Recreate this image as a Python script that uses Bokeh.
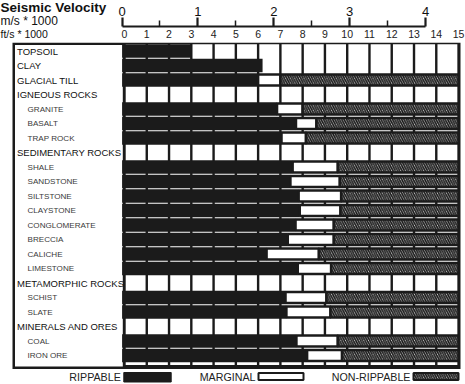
from bokeh.plotting import figure
from bokeh.models import Range1d, LinearAxis, FixedTicker, Title
from bokeh.layouts import column, row
from bokeh.core.properties import value
from bokeh.embed import file_html
from bokeh.resources import INLINE

# ---------------- data ----------------
rows = ["TOPSOIL", "CLAY", "GLACIAL TILL", "IGNEOUS ROCKS", "GRANITE", "BASALT",
        "TRAP ROCK", "SEDIMENTARY ROCKS", "SHALE", "SANDSTONE", "SILTSTONE",
        "CLAYSTONE", "CONGLOMERATE", "BRECCIA", "CALICHE", "LIMESTONE",
        "METAMORPHIC ROCKS", "SCHIST", "SLATE", "MINERALS AND ORES", "COAL", "IRON ORE"]
is_heading = [1, 1, 1, 1, 0, 0, 0, 1, 0, 0, 0, 0, 0, 0, 0, 0, 1, 0, 0, 1, 0, 0]
# seismic velocity, ft/s * 1000
rippable_end = [3.0, 6.2, 6.0, None, 6.85, 7.7, 7.05, None, 7.55, 7.45, 7.82,
                7.87, 7.68, 7.33, 6.38, 7.78, None, 7.23, 7.27, None, 7.72, 8.2]
marginal_end = [None, None, 7.0, None, 8.0, 8.62, 8.15, None, 9.58, 9.67, 9.73,
                9.7, 9.4, 9.4, 8.73, 9.28, None, 9.07, 9.25, None, 9.58, 9.77]
velocity_max = 15
ft_ticks = list(range(0, 16))
ms_ticks = [0, 1, 2, 3, 4]
ms_minor_ticks = [0.5, 1.5, 2.5, 3.5]
legend_labels = ["RIPPABLE", "MARGINAL", "NON-RIPPABLE"]
title_text = "Seismic Velocity"
unit_ms_text = "m/s * 1000"
unit_ft_text = "ft/s * 1000"

# ---------------- layout helpers (page pixels -> data) ----------------
W, H = 465, 384
TOP_H = 42             # height of header / axis strip
HEAD_W = 112           # width of header text block
PX_PER_FT = 22.27      # px per 1000 ft/s
X0 = 124.0             # px of 0 ft/s
ROW_H = 14.5           # px per row
ROW0 = 50.5            # px of first row centre
BLACK = "#1b1b1b"
FONT = "Liberation Sans"


def fx(px):
    return (px - X0) / PX_PER_FT


def fy(py):
    return (py - ROW0) / ROW_H


def base_fig(width, height, xr, yr, **kw):
    f = figure(width=width, height=height, x_range=xr, y_range=yr,
               output_backend="svg", toolbar_location=None, **kw)
    f.outline_line_color = None
    f.xgrid.visible = False
    f.ygrid.visible = False
    f.background_fill_color = "white"
    f.border_fill_color = "white"
    return f


# ---------------- header text block (top-left) ----------------
hdr = base_fig(HEAD_W, TOP_H, Range1d(0, 1), Range1d(0, 1),
               x_axis_location=None, y_axis_location=None,
               min_border_left=0, min_border_right=0, min_border_top=TOP_H - 2,
               min_border_bottom=0)
# stacked from the frame outwards
for txt, size, style, so in [(unit_ft_text, "10.5px", "normal", -1),
                             (unit_ms_text, "12px", "normal", -4.4),
                             (title_text, "13.5px", "bold", -1)]:
    hdr.add_layout(Title(text=txt, align="left", vertical_align="top", offset=0,
                         standoff=so, text_font=FONT, text_font_size=size,
                         text_font_style=style, text_color="#111111"), "above")

# ---------------- axis strip (top-right) ----------------
AX_W = W - HEAD_W
ax_x0, ax_x1 = fx(HEAD_W), fx(W)
ms0_x = fx(121.5)                       # 0 m/s as drawn
ms_per = (fx(425) - ms0_x) / 4.0        # 4 m/s as drawn
axf = base_fig(AX_W, TOP_H, Range1d(ax_x0, ax_x1), Range1d(0, 1),
               x_axis_location="above", y_axis_location=None,
               min_border_left=0, min_border_right=0, min_border_top=TOP_H - 2,
               min_border_bottom=0)
ax_ft = axf.xaxis[0]
ax_ft.ticker = FixedTicker(ticks=ft_ticks, minor_ticks=[])
ax_ft.axis_line_color = None
ax_ft.major_tick_line_color = None
ax_ft.minor_tick_line_color = None
ax_ft.major_tick_out = 0
ax_ft.major_tick_in = 0
ax_ft.major_label_standoff = 4
ax_ft.major_label_text_font = FONT
ax_ft.major_label_text_font_size = "10.5px"
ax_ft.major_label_text_color = "#222222"

axf.extra_x_ranges = {"ms": Range1d((ax_x0 - ms0_x) / ms_per, (ax_x1 - ms0_x) / ms_per)}
ax_ms = LinearAxis(x_range_name="ms",
                   ticker=FixedTicker(ticks=ms_ticks, minor_ticks=ms_minor_ticks),
                   bounds=(ms_ticks[0], ms_ticks[-1]))
ax_ms.axis_line_width = 2.2
ax_ms.axis_line_color = BLACK
ax_ms.major_tick_out = 9
ax_ms.major_tick_in = 0
ax_ms.major_tick_line_width = 2.2
ax_ms.major_tick_line_color = BLACK
ax_ms.minor_tick_out = 6
ax_ms.minor_tick_in = 0
ax_ms.minor_tick_line_width = 1.5
ax_ms.minor_tick_line_color = BLACK
ax_ms.major_label_standoff = 2
ax_ms.major_label_text_font = FONT
ax_ms.major_label_text_font_size = "13px"
ax_ms.major_label_text_color = "#111111"
axf.add_layout(ax_ms, "above")

# ---------------- main chart ----------------
p = base_fig(W, H - TOP_H, Range1d(fx(0), fx(W)), Range1d(fy(H), fy(TOP_H)),
             x_axis_location=None, y_axis_location=None,
             min_border_left=0, min_border_right=0, min_border_top=0,
             min_border_bottom=0)

# outer box and label column
p.quad(left=[fx(12)], right=[fx(460)], top=[fy(42)], bottom=[fy(368.5)],
       fill_color=BLACK, line_color=None)
p.quad(left=[fx(14.5)], right=[fx(122.3)], top=[fy(44.5)], bottom=[fy(366)],
       fill_color="white", line_color=None)

# white grid cells
inset = 1.2 / PX_PER_FT
cols = list(range(velocity_max))
p.quad(left=[c + inset for c in cols], right=[c + 1 - inset for c in cols],
       top=[fy(43.7)] * len(cols), bottom=[fy(364.5)] * len(cols),
       fill_color="white", line_color=None)

# bars
g = 0.5 / ROW_H
hh = 5.5 / ROW_H
r_l, r_r, r_t, r_b = [], [], [], []
m_l, m_r, m_t, m_b = [], [], [], []
n_l, n_r, n_t, n_b = [], [], [], []
for i, (r, m) in enumerate(zip(rippable_end, marginal_end)):
    if r is not None:
        r_l.append(-2 * inset); r_r.append(r)
        r_t.append(i - 0.5 + g); r_b.append(i + 0.5 - g)
    if m is not None:
        m_l.append(r); m_r.append(m); m_t.append(i - hh); m_b.append(i + hh)
        n_l.append(m); n_r.append(velocity_max); n_t.append(i - hh); n_b.append(i + hh)

p.quad(left=r_l, right=r_r, top=r_t, bottom=r_b, fill_color=BLACK, line_color=None)
p.quad(left=m_l, right=m_r, top=m_t, bottom=m_b, fill_color="white",
       line_color=BLACK, line_width=2.5)
p.quad(left=n_l, right=n_r, top=n_t, bottom=n_b, fill_color="white",
       hatch_pattern="\\", hatch_color=BLACK, hatch_scale=4.6, hatch_weight=1.7,
       line_color=BLACK, line_width=2.5)

# row labels
hy = [i for i, h in enumerate(is_heading) if h]
sy = [i for i, h in enumerate(is_heading) if not h]
p.text(x=[fx(16.5)] * len(hy), y=hy, text=[rows[i] for i in hy],
       text_baseline="middle", text_align="left", text_font=value(FONT),
       text_font_size="9.5px", text_color="#111111")
p.text(x=[fx(27)] * len(sy), y=sy, text=[rows[i] for i in sy],
       text_baseline="middle", text_align="left", text_font=value(FONT),
       text_font_size="8.1px", text_color="#3a3a3a")

# legend
leg_y = fy(376.7)
leg_box_l = [fx(123.3), fx(258), fx(413)]
leg_box_r = [fx(170.7), fx(303), fx(458)]
gap = 3.0 / PX_PER_FT
p.text(x=[b - gap for b in leg_box_l], y=[leg_y] * 3, text=legend_labels,
       text_baseline="middle", text_align="right", text_font=value(FONT),
       text_font_size="10.7px", text_color="#222222")
p.quad(left=leg_box_l[:1], right=leg_box_r[:1], top=[fy(372)], bottom=[fy(381.5)],
       fill_color=BLACK, line_color=BLACK, line_width=1)
p.quad(left=leg_box_l[1:2], right=leg_box_r[1:2], top=[fy(372.5)], bottom=[fy(379.5)],
       fill_color="white", line_color=BLACK, line_width=2)
p.quad(left=leg_box_l[2:], right=leg_box_r[2:], top=[fy(372.5)], bottom=[fy(379.5)],
       fill_color="white", hatch_pattern="\\", hatch_color=BLACK, hatch_scale=4.6,
       hatch_weight=1.7, line_color=BLACK, line_width=2)

page = column(row(hdr, axf, spacing=0), p, spacing=0)
open("out.html", "w").write(file_html(page, INLINE))
